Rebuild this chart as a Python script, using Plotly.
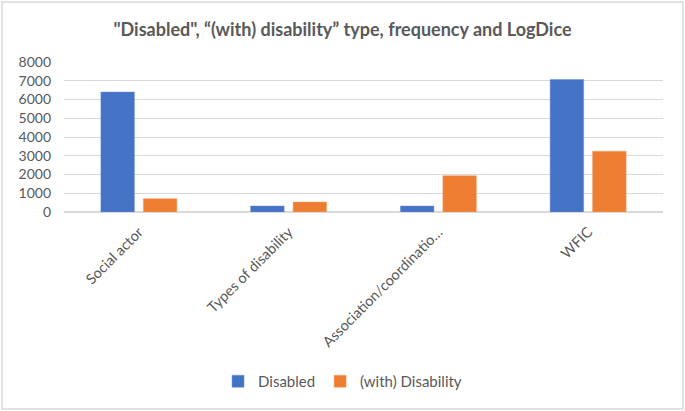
import plotly.graph_objects as go

# Data
categories = ["Social actor", "Types of disability", "Association/coordinatio…", "WFIC"]
disabled = [6400, 320, 320, 7070]
with_disability = [710, 530, 1940, 3240]
y_ticks = [0, 1000, 2000, 3000, 4000, 5000, 6000, 7000, 8000]

FONT = "Lato"
GREY = "#595959"

fig = go.Figure()
fig.add_trace(go.Bar(x=categories, y=disabled, name="Disabled",
                     marker=dict(color="#4472C4", line=dict(color="#6f93d8", width=0.5))))
fig.add_trace(go.Bar(x=categories, y=with_disability, name="(with) Disability",
                     marker=dict(color="#ED7D31", line=dict(color="#f3a06a", width=0.5))))

fig.update_layout(
    width=685, height=411,
    margin=dict(l=64, r=22, t=62, b=199),
    paper_bgcolor="white", plot_bgcolor="white",
    barmode="group", bargap=0.433, bargroupgap=0.21,
    title=dict(text='<b>"Disabled", “(with) disability” type, frequency and LogDice</b>',
               x=0.5, xanchor="center", y=0.927, yanchor="middle",
               font=dict(family=FONT, size=18, color=GREY)),
    font=dict(family=FONT, size=14, color=GREY),
    legend=dict(orientation="h", x=0.465, xanchor="center", y=-1.13, yanchor="middle",
                font=dict(family=FONT, size=15, color=GREY), itemwidth=30,
                traceorder="normal"),
    showlegend=True,
)
fig.update_yaxes(range=[0, 8000], tickvals=y_ticks, showgrid=True, gridcolor="#D9D9D9",
                 gridwidth=1, zeroline=True, zerolinecolor="#D9D9D9", showline=False,
                 ticks="", ticklabelstandoff=12, tickfont=dict(size=14, color=GREY))
fig.update_xaxes(tickangle=-45, showline=True, linecolor="#D9D9D9", ticks="",
                 ticklabelstandoff=5, tickfont=dict(size=14.5, color=GREY))

# light frame around the chart
fig.add_shape(type="rect", xref="paper", yref="paper",
              x0=-62 / 599, x1=1 + 20 / 599, y0=-197 / 150, y1=1 + 60 / 150,
              line=dict(color="#D9D9D9", width=1.5), fillcolor="rgba(0,0,0,0)")

# drop the default page margin so the figure sits at the window origin
fig.write_html("out.html", config={"displayModeBar": False},
               post_script="document.body.style.margin='0';")
